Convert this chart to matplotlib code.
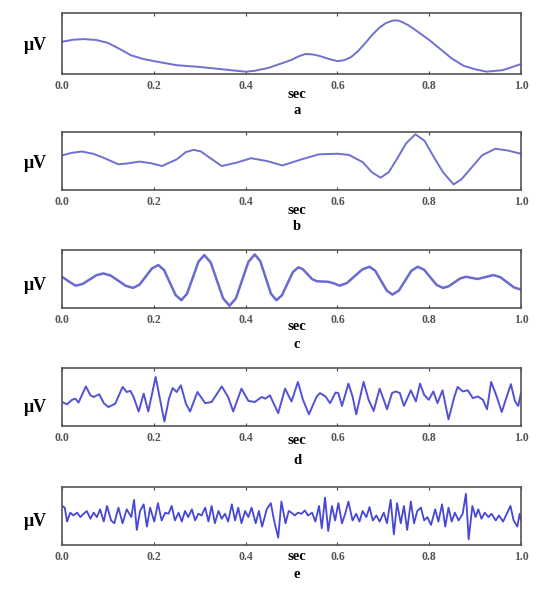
import matplotlib
matplotlib.use("Agg")
import matplotlib.pyplot as plt

# panel a
a_x = [0.0, 0.025, 0.047, 0.075, 0.1, 0.125, 0.15, 0.175, 0.2, 0.25, 0.3, 0.35, 0.38, 0.4,
       0.42, 0.45, 0.5, 0.515, 0.53, 0.545, 0.56, 0.58, 0.6, 0.615, 0.63, 0.645, 0.66,
       0.675, 0.69, 0.705, 0.72, 0.73, 0.74, 0.755, 0.77, 0.785, 0.8, 0.825,
       0.85, 0.875, 0.9, 0.925, 0.96, 1.0]
a_y = [0.53, 0.565, 0.575, 0.56, 0.51, 0.41, 0.30, 0.24, 0.20, 0.13, 0.10, 0.06, 0.035, 0.02,
       0.035, 0.085, 0.22, 0.28, 0.32, 0.315, 0.29, 0.24, 0.20, 0.215, 0.27, 0.37, 0.50,
       0.64, 0.76, 0.845, 0.89, 0.895, 0.87, 0.81, 0.73, 0.645, 0.56, 0.40,
       0.24, 0.12, 0.06, 0.02, 0.045, 0.15]

# panel b
b_x = [0.0, 0.02, 0.043, 0.068, 0.093, 0.123, 0.146, 0.169, 0.194, 0.218, 0.25, 0.27, 0.287,
       0.303, 0.318, 0.348, 0.38, 0.412, 0.446, 0.48, 0.526, 0.56, 0.6, 0.625, 0.655, 0.675,
       0.694, 0.712, 0.73, 0.75, 0.77, 0.79, 0.808, 0.83, 0.853, 0.87, 0.89, 0.915,
       0.944, 0.97, 1.0]
b_y = [0.60, 0.645, 0.67, 0.63, 0.55, 0.44, 0.46, 0.49, 0.46, 0.41, 0.53, 0.66, 0.70,
       0.67, 0.58, 0.41, 0.47, 0.55, 0.50, 0.42, 0.54, 0.62, 0.63, 0.61, 0.48, 0.30,
       0.20, 0.30, 0.54, 0.82, 0.98, 0.86, 0.60, 0.30, 0.08, 0.17, 0.36, 0.60,
       0.72, 0.69, 0.63]

# panel c
c_x = [0.0, 0.015, 0.03, 0.045, 0.06, 0.075, 0.09, 0.106, 0.1225, 0.139, 0.155, 0.169,
       0.1825, 0.196, 0.21, 0.2225, 0.235, 0.2475, 0.26, 0.2725, 0.285, 0.2975, 0.31,
       0.324, 0.3375, 0.351, 0.365, 0.379, 0.3925, 0.406, 0.42, 0.432, 0.4435, 0.455,
       0.467, 0.479, 0.491, 0.503, 0.515, 0.525, 0.535, 0.545, 0.555, 0.58, 0.593,
       0.605, 0.621, 0.6375, 0.654, 0.67, 0.6825, 0.695, 0.7075, 0.72, 0.734, 0.7475,
       0.761, 0.775, 0.789, 0.8025, 0.816, 0.83, 0.8425, 0.855, 0.8675, 0.88, 0.8925,
       0.905, 0.9225, 0.94, 0.955, 0.97, 0.985, 1.0]
c_y = [0.54, 0.455, 0.38, 0.412, 0.49, 0.568, 0.60, 0.562, 0.47, 0.378, 0.34, 0.40,
       0.545, 0.69, 0.75, 0.658, 0.435, 0.212, 0.12, 0.238, 0.525, 0.812, 0.93,
       0.797, 0.475, 0.153, 0.02, 0.154, 0.48, 0.806, 0.94, 0.82, 0.53, 0.24,
       0.12, 0.206, 0.415, 0.624, 0.71, 0.673, 0.585, 0.497, 0.46, 0.45, 0.42,
       0.38, 0.43, 0.55, 0.67, 0.72, 0.647, 0.47, 0.293, 0.22, 0.293, 0.47,
       0.647, 0.72, 0.665, 0.53, 0.395, 0.34, 0.369, 0.44, 0.51, 0.54, 0.52,
       0.50, 0.535, 0.57, 0.532, 0.44, 0.348, 0.31]

# panel d
d_x = [0.0, 0.011, 0.022, 0.029, 0.036, 0.052, 0.062, 0.069, 0.081, 0.091, 0.101, 0.116,
       0.132, 0.141, 0.149, 0.156, 0.167, 0.178, 0.188, 0.204, 0.214, 0.223, 0.233,
       0.241, 0.25, 0.259, 0.27, 0.279, 0.295, 0.312, 0.326, 0.348, 0.362, 0.373,
       0.391, 0.406, 0.42, 0.435, 0.443, 0.453, 0.471, 0.486, 0.5, 0.514, 0.525,
       0.538, 0.555, 0.562, 0.574, 0.584, 0.596, 0.602, 0.61, 0.624, 0.633, 0.641,
       0.657, 0.668, 0.679, 0.692, 0.701, 0.708, 0.719, 0.727, 0.736, 0.745, 0.76,
       0.771, 0.78, 0.789, 0.799, 0.809, 0.818, 0.829, 0.842, 0.855, 0.862, 0.873,
       0.884, 0.895, 0.906, 0.917, 0.926, 0.935, 0.947, 0.958, 0.969, 0.978, 0.987,
       0.994, 1.0]
d_y = [0.41, 0.37, 0.45, 0.47, 0.40, 0.69, 0.53, 0.50, 0.55, 0.39, 0.32, 0.38,
       0.68, 0.59, 0.61, 0.50, 0.24, 0.56, 0.24, 0.86, 0.44, 0.06, 0.47,
       0.66, 0.59, 0.71, 0.38, 0.24, 0.59, 0.39, 0.41, 0.69, 0.50, 0.24,
       0.65, 0.43, 0.41, 0.50, 0.47, 0.53, 0.21, 0.65, 0.42, 0.77, 0.45,
       0.19, 0.51, 0.57, 0.51, 0.39, 0.58, 0.57, 0.34, 0.74, 0.51, 0.19,
       0.77, 0.45, 0.25, 0.65, 0.45, 0.28, 0.57, 0.60, 0.57, 0.34, 0.62,
       0.42, 0.74, 0.54, 0.45, 0.60, 0.39, 0.62, 0.10, 0.51, 0.68, 0.60,
       0.62, 0.48, 0.51, 0.45, 0.28, 0.77, 0.51, 0.23, 0.51, 0.73, 0.42,
       0.34, 0.57]

# panel e
e_x = [0.0, 0.006, 0.011, 0.018, 0.025, 0.033, 0.04, 0.047, 0.054, 0.062, 0.069, 0.076,
       0.083, 0.091, 0.098, 0.107, 0.114, 0.123, 0.132, 0.141, 0.151, 0.157, 0.163,
       0.17, 0.178, 0.185, 0.192, 0.201, 0.209, 0.217, 0.225, 0.232, 0.239, 0.246,
       0.254, 0.261, 0.268, 0.275, 0.283, 0.29, 0.297, 0.304, 0.312, 0.319, 0.326,
       0.333, 0.341, 0.348, 0.355, 0.362, 0.37, 0.377, 0.384, 0.391, 0.399, 0.406,
       0.413, 0.422, 0.429, 0.436, 0.446, 0.455, 0.462, 0.471, 0.478, 0.487, 0.494,
       0.5, 0.507, 0.514, 0.522, 0.529, 0.536, 0.545, 0.552, 0.56, 0.566, 0.573,
       0.58, 0.588, 0.595, 0.602, 0.61, 0.617, 0.624, 0.633, 0.641, 0.648, 0.655,
       0.663, 0.67, 0.677, 0.685, 0.692, 0.701, 0.708, 0.716, 0.723, 0.73, 0.738,
       0.745, 0.752, 0.76, 0.767, 0.774, 0.782, 0.789, 0.796, 0.804, 0.813, 0.82,
       0.828, 0.835, 0.842, 0.849, 0.856, 0.864, 0.873, 0.88, 0.886, 0.894, 0.901,
       0.907, 0.914, 0.921, 0.929, 0.936, 0.945, 0.952, 0.961, 0.97, 0.977, 0.984,
       0.992, 0.997, 1.0]
e_y = [0.68, 0.65, 0.40, 0.56, 0.51, 0.56, 0.48, 0.54, 0.59, 0.45, 0.56, 0.48,
       0.62, 0.40, 0.68, 0.42, 0.37, 0.65, 0.37, 0.62, 0.48, 0.79, 0.25,
       0.59, 0.71, 0.31, 0.65, 0.40, 0.73, 0.42, 0.56, 0.54, 0.68, 0.42,
       0.56, 0.40, 0.59, 0.48, 0.62, 0.42, 0.54, 0.51, 0.65, 0.40, 0.68,
       0.37, 0.59, 0.45, 0.54, 0.40, 0.71, 0.42, 0.65, 0.37, 0.59, 0.48,
       0.65, 0.37, 0.59, 0.31, 0.62, 0.73, 0.42, 0.11, 0.76, 0.37, 0.59,
       0.56, 0.51, 0.56, 0.54, 0.60, 0.51, 0.56, 0.40, 0.68, 0.28, 0.83,
       0.23, 0.68, 0.42, 0.73, 0.37, 0.54, 0.76, 0.42, 0.54, 0.40, 0.59,
       0.48, 0.66, 0.42, 0.51, 0.40, 0.56, 0.37, 0.79, 0.17, 0.73, 0.37,
       0.68, 0.25, 0.76, 0.37, 0.59, 0.65, 0.42, 0.48, 0.34, 0.62, 0.40,
       0.71, 0.31, 0.65, 0.40, 0.56, 0.42, 0.54, 0.90, 0.08, 0.68, 0.48,
       0.62, 0.45, 0.56, 0.48, 0.54, 0.42, 0.51, 0.40, 0.56, 0.68, 0.42,
       0.31, 0.54, 0.42]

letters = ["a", "b", "c", "d", "e"]
xticks = [0.0, 0.2, 0.4, 0.6, 0.8, 1.0]
tick_labels = ["0.0", "0.2", "0.4", "0.6", "0.8", "1.0"]

W, H = 550, 589
fig = plt.figure(figsize=(5.5, 5.89), dpi=100)

# pixel layout: (box top, box bottom, sec y, letter y, uV y)
rows = [(13, 74, 95, 110, 45),
        (132, 190, 211, 226, 163),
        (250, 308, 326, 345, 285),
        (368, 426, 440, 461, 407),
        (487, 545, 557, 575, 522)]
data = [(a_x, a_y), (b_x, b_y), (c_x, c_y), (d_x, d_y), (e_x, e_y)]
colors = ["#7070d0", "#7070d0", "#6a6ad0", "#5252d4", "#4646d8"]
lws = [1.4, 1.4, 1.8, 1.4, 1.3]
left, right = 62, 521

for i, (xs, ys) in enumerate(data):
    top, bot, sec_y, let_y, uv_y = rows[i]
    ax = fig.add_axes([left / W, 1 - bot / H, (right - left) / W, (bot - top) / H])
    ax.plot(xs, ys, color=colors[i], lw=lws[i], solid_joinstyle="round")
    ax.set_xlim(0, 1)
    ax.set_ylim(-0.02, 1.02)
    ax.set_yticks([])
    ax.set_xticks(xticks)
    ax.set_xticklabels(tick_labels, family="Liberation Serif", fontweight="bold",
                       fontsize=8.5, color="#555555")
    ax.tick_params(axis="x", direction="in", length=2, width=0.8, color="#444444",
                   top=True, pad=4)
    for s in ax.spines.values():
        s.set_color("#555555")
        s.set_linewidth(1.2)
    cx = 0.5 * (left + right) / W + 0.01
    fig.text(cx, 1 - sec_y / H, "sec", ha="center", va="center",
             family="Liberation Serif", fontweight="bold", fontsize=10.5)
    fig.text(cx, 1 - let_y / H, letters[i], ha="center", va="center",
             family="Liberation Serif", fontweight="bold", fontsize=10.5)
    fig.text(35 / W, 1 - uv_y / H, "μV", ha="center", va="center",
             family="Liberation Serif", fontweight="bold", fontsize=13)

fig.savefig("out.png", dpi=100)
